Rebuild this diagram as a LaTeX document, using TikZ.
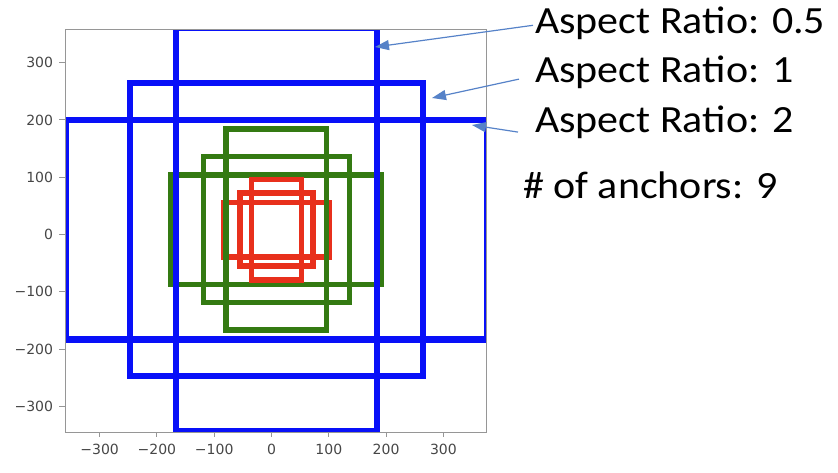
\documentclass[tikz,border=0pt]{standalone}
\usepackage{fontspec}
\setmainfont{Carlito}
\newfontfamily\notefont[FakeStretch=1.09]{Carlito}
\newfontfamily\tickfont{DejaVu Sans}
\usepackage{xcolor}
\usetikzlibrary{arrows.meta}
\definecolor{boxred}{RGB}{232,48,28}
\definecolor{boxgreen}{RGB}{52,122,18}
\definecolor{boxblue}{RGB}{8,16,248}
\definecolor{arrowblue}{RGB}{86,130,200}
\definecolor{spinegray}{RGB}{150,150,150}
\definecolor{ticktext}{RGB}{70,70,70}

\begin{document}
\begin{tikzpicture}[x=1pt, y=1pt, auto,
    ratiotext/.style={anchor=base west, inner sep=0pt, font=\notefont\fontsize{38.5}{46}\selectfont},
    ticklabel/.style={inner sep=0pt, text=ticktext, font=\tickfont\fontsize{14}{16}\selectfont},
    pointer/.style={draw=arrowblue, line width=1.2pt, -{Triangle[length=14pt,width=10pt]}}]
    \useasboundingbox (0,0) rectangle (838,-472);
    \begin{scope}[shift={(271.5,-234.5)}, x=0.573pt, y=0.573pt]
        \begin{scope}
            \clip (-360,-345) rectangle (376,357);
            \foreach \xa/\ya/\xb/\yb/\c/\w in {
                -83/-39/100/56/boxred/5.5, -175/-87/192/104/boxgreen/5.5, -359/-183/376/200/boxblue/6.5,
                -55/-55/72/72/boxred/5.5, -119/-119/136/136/boxgreen/5.5, -247/-247/264/264/boxblue/6.5,
                -35/-79/52/96/boxred/5.5, -79/-167/96/184/boxgreen/5.5, -167/-343/184/360/boxblue/6.5}
                \draw[\c, line width=\w pt] (\xa,\ya) rectangle (\xb,\yb);
        \end{scope}
        \draw[spinegray, line width=1pt] (-360,-345) rectangle (376,357);
        \foreach \t/\s [count=\i] in {-300/−300, -200/−200, -100/−100, 0/0, 100/100, 200/200, 300/300} {
            \draw[spinegray, line width=1pt] (\t,-345) -- ++(0,-8.7) node (xl\i) [ticklabel, anchor=north, yshift=-6pt] {\s};
            \draw[spinegray, line width=1pt] (-360,\t) -- ++(-10,0) node (yl\i) [ticklabel, anchor=east, xshift=-6pt] {\s};
        }
    \end{scope}
    \node (A) [ratiotext] at (535,-33.3) {Aspect Ratio: 0.5};;
    \node (B) [ratiotext] at ([yshift=-49.5pt]A.base west) {Aspect Ratio: 1};;
    \node (C) [ratiotext] at ([yshift=-50pt]B.base west) {Aspect Ratio: 2};;
    \node (D) [ratiotext] at ([shift={(-12pt,-65.5pt)}]C.base west) {\# of anchors: 9};;
    \coordinate (a) at (375,-47);
    \coordinate (b) at (432,-98);
    \coordinate (c) at (472,-125);
    \path ([shift={(-2pt,8pt)}]A.base west) edge[pointer] (a);
    \path ([shift={(-16pt,3.7pt)}]B.base west) edge[pointer] (b);
    \path ([shift={(-17pt,0.7pt)}]C.base west) edge[pointer] (c);
\end{tikzpicture}
\end{document}
